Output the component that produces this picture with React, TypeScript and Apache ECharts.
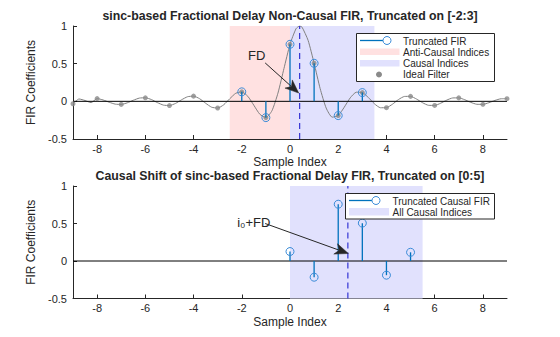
import React, { useEffect, useRef } from "react";
import * as echarts from "echarts";

// ---------- data ----------
const fracDelay = 0.4;
const causalShiftDelay = 2.4;
const curveX = [-9,-8.75,-8.5,-8.25,-8,-7.75,-7.5,-7.25,-7,-6.75,-6.5,-6.25,-6,-5.75,-5.5,-5.25,-5,-4.75,-4.5,-4.25,-4,-3.75,-3.5,-3.25,-3,-2.75,-2.5,-2.25,-2,-1.75,-1.5,-1.25,-1,-0.75,-0.5,-0.25,0,0.25,0.4,0.5,0.75,1,1.25,1.5,1.75,2,2.25,2.5,2.75,3,3.25,3.5,3.75,4,4.25,4.5,4.75,5,5.25,5.5,5.75,6,6.25,6.5,6.75,7,7.25,7.5,7.75,8,8.25,8.5,8.75,9];
const curveY = [-0.032,0.031,0.011,-0.017,0.036,0.018,-0.012,-0.037,-0.041,
  -0.020,0.014,0.043,0.047,0.024,-0.017,-0.050,-0.056,
  -0.028,0.020,0.061,0.069,0.035,-0.025,-0.078,-0.089,
  -0.046,0.034,0.107,0.126,0.067,-0.052,-0.172,-0.216,
  -0.126,0.109,0.436,0.757,0.964,1.0,
  0.984,0.810,0.505,0.170,-0.089,-0.210,-0.189,-0.078,0.047,0.121,
  0.116,0.051,-0.032,-0.085,-0.084,-0.038,0.024,0.065,0.066,0.030,
  -0.019,-0.053,-0.054,-0.025,0.016,0.045,0.046,0.021,-0.014,-0.039,
  -0.040,-0.018,0.012,0.034,0.035];
const idealIdx = [-9,-8,-7,-6,-5,-4,-3,-2,-1,0,1,2,3,4,5,6,7,8,9];
const idealVals = [-0.032,0.036,-0.041,0.047,-0.056,0.069,-0.089,0.126,-0.216,0.757,0.505,-0.189,0.116,-0.084,0.066,-0.054,0.046,-0.040,0.035];
const truncIdx = [-2,-1,0,1,2,3];
const causalIdx = [0,1,2,3,4,5];
const truncVals = [0.126,-0.216,0.757,0.505,-0.189,0.116];
const antiCausalRange = [-2.5, 0];
const causalRange = [0, 3.5];
const allCausalRange = [0, 5.5];
const xRange = [-9, 9];
const yRange = [-0.5, 1];
// [fromX, fromY, toX, toY, textX, textY]
const arrowTop = [-1.03, 0.51, 0.36, 0.11, -1.38, 0.61];
const arrowTopText = "FD";
const arrowBottom = [-1.03, 0.5, 2.42, 0.1, -1.5, 0.52];
const arrowBottomText = "i\u2080+FD";
const titles = [
  "sinc-based Fractional Delay Non-Causal FIR, Truncated on [-2:3]",
  "Causal Shift of sinc-based Fractional Delay FIR, Truncated on [0:5]",
];

// ---------- styles ----------
const TXT = "#262626";
const STEM = "#0072BD";
const CIRC = "#3a8bd8";
const PINK = "#ffe1e1";
const LBLUE = "#e1e1fd";
const GRAY = "#8a8a8a";
const DASH = "#3434d4";
const FONT = "Liberation Sans, Arial, sans-serif";

const stemRender = (params: any, api: any) => {
  const x = api.value(0);
  const y = api.value(1);
  const p0 = api.coord([x, 0]);
  const p1 = api.coord([x, y]);
  return {
    type: "group",
    children: [
      { type: "line", shape: { x1: p0[0], y1: p0[1], x2: p1[0], y2: p1[1] }, style: { stroke: STEM, lineWidth: 1.3 } },
      { type: "circle", shape: { cx: p1[0], cy: p1[1], r: 4 }, style: { fill: "none", stroke: CIRC, lineWidth: 1 } },
    ],
  };
};

const makeArrowRender = (label: string) => (params: any, api: any) => {
  const p0 = api.coord([api.value(0), api.value(1)]);
  const p1 = api.coord([api.value(2), api.value(3)]);
  const pt = api.coord([api.value(4), api.value(5)]);
  const dx = p1[0] - p0[0];
  const dy = p1[1] - p0[1];
  const len = Math.sqrt(dx * dx + dy * dy) || 1;
  const ux = dx / len, uy = dy / len;
  const nx = -uy, ny = ux;
  const L = 13.5, W = 5.5;
  const bx = p1[0] - ux * L, by = p1[1] - uy * L;
  const notch = [p1[0] - ux * L * 0.72, p1[1] - uy * L * 0.72];
  return {
    type: "group",
    children: [
      { type: "line", shape: { x1: p0[0], y1: p0[1], x2: notch[0], y2: notch[1] }, style: { stroke: TXT, lineWidth: 1 } },
      {
        type: "polygon",
        shape: { points: [[p1[0], p1[1]], [bx + nx * W, by + ny * W], notch, [bx - nx * W, by - ny * W]] },
        style: { fill: TXT, stroke: TXT, lineWidth: 0.5 },
      },
      {
        type: "text", x: pt[0], y: pt[1],
        style: { text: label, fontSize: 13, fill: TXT, fontFamily: FONT, align: "center", verticalAlign: "middle" },
      },
    ],
  };
};

function makeAxes(i: number) {
  return {
    x: {
      gridIndex: i, type: "value", min: xRange[0], max: xRange[1], splitNumber: 9,
      axisLine: { onZero: false, lineStyle: { color: TXT, width: 1 } },
      axisTick: { inside: true, length: 4, lineStyle: { color: TXT } },
      axisLabel: { showMinLabel: false, showMaxLabel: false, fontSize: 11, color: TXT, margin: 4, fontFamily: FONT },
      splitLine: { show: false },
      name: "Sample Index", nameLocation: "middle", nameGap: 17,
      nameTextStyle: { fontSize: 12, color: TXT, fontFamily: FONT },
    },
    y: {
      gridIndex: i, type: "value", min: yRange[0], max: yRange[1], interval: 0.5,
      axisLine: { show: true, onZero: false, lineStyle: { color: TXT, width: 1 } },
      axisTick: { show: true, inside: true, length: 4, lineStyle: { color: TXT } },
      axisLabel: { fontSize: 11, color: TXT, margin: 6, fontFamily: FONT },
      splitLine: { show: false },
      name: "FIR Coefficients", nameLocation: "middle", nameGap: 26, nameRotate: 90,
      nameTextStyle: { fontSize: 12, color: TXT, fontFamily: FONT },
    },
  };
}

export default function App() {
  const ref = useRef<HTMLDivElement>(null);
  useEffect(() => {
    if (!ref.current) return;
    const chart = echarts.init(ref.current, null, { renderer: "svg" });
    const a0 = makeAxes(0);
    const a1 = makeAxes(1);
    const curve = curveX.map((x, i) => [x, curveY[i]]);
    const ideal = idealIdx.map((x, i) => [x, idealVals[i]]);
    const stemsTop = truncIdx.map((x, i) => [x, truncVals[i]]);
    const stemsBot = causalIdx.map((x, i) => [x, truncVals[i]]);

    const legendText = (x: number, y: number, t: string) => ({
      type: "text", x, y, style: { text: t, fontSize: 10, fill: TXT, fontFamily: FONT, verticalAlign: "middle", align: "left" },
    });

    chart.setOption({
      animation: false,
      textStyle: { fontFamily: FONT },
      title: [
        { text: titles[0], left: 290, top: 9.5, textAlign: "center", textStyle: { fontSize: 12.3, fontWeight: "bold", color: TXT, fontFamily: FONT }, padding: 0 },
        { text: titles[1], left: 290, top: 170, textAlign: "center", textStyle: { fontSize: 12.3, fontWeight: "bold", color: TXT, fontFamily: FONT }, padding: 0 },
      ],
      grid: [
        { left: 73, top: 26, width: 434, height: 113, containLabel: false },
        { left: 73, top: 186, width: 434, height: 112.5, containLabel: false },
      ],
      xAxis: [a0.x, a1.x],
      yAxis: [a0.y, a1.y],
      series: [
        // top shading
        {
          type: "line", xAxisIndex: 0, yAxisIndex: 0, data: [], z: 0, silent: true,
          markArea: {
            silent: true,
            data: [
              [{ xAxis: antiCausalRange[0], itemStyle: { color: PINK } }, { xAxis: antiCausalRange[1] }],
              [{ xAxis: causalRange[0], itemStyle: { color: LBLUE } }, { xAxis: causalRange[1] }],
            ],
          },
        },
        {
          type: "line", xAxisIndex: 0, yAxisIndex: 0, data: curve, showSymbol: false, smooth: 0.2, z: 2,
          lineStyle: { color: "#808080", width: 1 }, silent: true,
        },
        {
          type: "scatter", xAxisIndex: 0, yAxisIndex: 0, data: ideal, symbolSize: 5, z: 3,
          itemStyle: { color: GRAY }, silent: true,
        },
        {
          type: "line", xAxisIndex: 0, yAxisIndex: 0, data: [[xRange[0], 0], [xRange[1], 0]], showSymbol: false, z: 3,
          lineStyle: { color: "#000", width: 1 }, silent: true,
        },
        { type: "custom", xAxisIndex: 0, yAxisIndex: 0, data: stemsTop, renderItem: stemRender, z: 4, silent: true },
        {
          type: "line", xAxisIndex: 0, yAxisIndex: 0, data: [[fracDelay, yRange[0]], [fracDelay, yRange[1]]], showSymbol: false, z: 5,
          lineStyle: { color: DASH, width: 1.2, type: [6, 4] }, silent: true,
        },
        {
          type: "custom", xAxisIndex: 0, yAxisIndex: 0, data: [arrowTop], renderItem: makeArrowRender(arrowTopText),
          encode: { x: [0, 2, 4], y: [1, 3, 5] }, z: 6, silent: true, clip: false,
        },

        // bottom
        {
          type: "line", xAxisIndex: 1, yAxisIndex: 1, data: [], z: 0, silent: true,
          markArea: {
            silent: true,
            data: [[{ xAxis: allCausalRange[0], itemStyle: { color: LBLUE } }, { xAxis: allCausalRange[1] }]],
          },
        },
        {
          type: "line", xAxisIndex: 1, yAxisIndex: 1, data: [[xRange[0], 0], [xRange[1], 0]], showSymbol: false, z: 3,
          lineStyle: { color: "#000", width: 1 }, silent: true,
        },
        { type: "custom", xAxisIndex: 1, yAxisIndex: 1, data: stemsBot, renderItem: stemRender, z: 4, silent: true },
        {
          type: "line", xAxisIndex: 1, yAxisIndex: 1, data: [[causalShiftDelay, yRange[0]], [causalShiftDelay, yRange[1]]], showSymbol: false, z: 5,
          lineStyle: { color: DASH, width: 1.2, type: [6, 4] }, silent: true,
        },
        {
          type: "custom", xAxisIndex: 1, yAxisIndex: 1, data: [arrowBottom], renderItem: makeArrowRender(arrowBottomText),
          encode: { x: [0, 2, 4], y: [1, 3, 5] }, z: 6, silent: true, clip: false,
        },
      ],
      graphic: [
        // top legend
        { type: "rect", shape: { x: 356.5, y: 33.5, width: 138, height: 48 }, style: { fill: "#fff", stroke: TXT, lineWidth: 1 }, z: 100 },
        { type: "line", shape: { x1: 360, y1: 40.5, x2: 383, y2: 40.5 }, style: { stroke: STEM, lineWidth: 1.3 }, z: 101 },
        { type: "circle", shape: { cx: 387, cy: 40.5, r: 4 }, style: { fill: "none", stroke: CIRC, lineWidth: 1 }, z: 101 },
        { ...legendText(403, 41, "Truncated FIR"), z: 101 },
        { type: "rect", shape: { x: 360, y: 48.5, width: 39.5, height: 6.5 }, style: { fill: PINK }, z: 101 },
        { ...legendText(403, 52, "Anti-Causal Indices"), z: 101 },
        { type: "rect", shape: { x: 360, y: 60, width: 39.5, height: 6.5 }, style: { fill: LBLUE }, z: 101 },
        { ...legendText(403, 63.5, "Causal Indices"), z: 101 },
        { type: "circle", shape: { cx: 379, cy: 74.5, r: 3 }, style: { fill: GRAY }, z: 101 },
        { ...legendText(403, 74.5, "Ideal Filter"), z: 101 },
        // bottom legend
        { type: "rect", shape: { x: 345.5, y: 193.5, width: 149, height: 25.5 }, style: { fill: "#fff", stroke: TXT, lineWidth: 1 }, z: 100 },
        { type: "line", shape: { x1: 349, y1: 200.5, x2: 372, y2: 200.5 }, style: { stroke: STEM, lineWidth: 1.3 }, z: 101 },
        { type: "circle", shape: { cx: 376, cy: 200.5, r: 4 }, style: { fill: "none", stroke: CIRC, lineWidth: 1 }, z: 101 },
        { ...legendText(392.5, 201, "Truncated Causal FIR"), z: 101 },
        { type: "rect", shape: { x: 349, y: 208, width: 40, height: 7.5 }, style: { fill: LBLUE }, z: 101 },
        { ...legendText(392.5, 212, "All Causal Indices"), z: 101 },
      ],
    });
    return () => chart.dispose();
  }, []);
  return (
    <div
      ref={ref}
      style={{ position: "fixed", left: 0, top: 0, width: 560, height: 337, background: "#fff" }}
    />
  );
}
